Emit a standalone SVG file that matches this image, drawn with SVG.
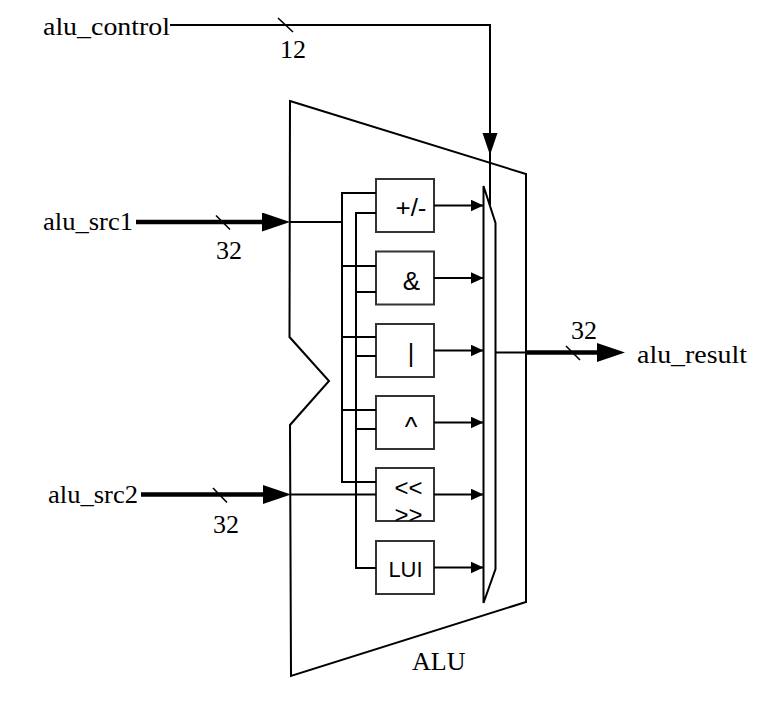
<svg xmlns="http://www.w3.org/2000/svg" width="781" height="709" viewBox="0 0 781 709">
<style>
.w{fill:none;stroke:#000;stroke-width:2}
.thick{fill:none;stroke:#000;stroke-width:4.5}
.tick{fill:none;stroke:#000;stroke-width:1.6}
.box{fill:#fff;stroke:#333;stroke-width:2}
.lbl{font-family:"Liberation Serif","Times New Roman",serif;font-size:26px;fill:#000}
.op{font-family:"Liberation Sans",Arial,sans-serif;font-size:22px;fill:#000;text-anchor:middle}
</style>
<defs>
<marker id="ah" markerUnits="userSpaceOnUse" markerWidth="14" markerHeight="13" refX="13" refY="6" orient="auto"><path d="M0,0 L13,6 L0,12 z" fill="#000"/></marker>
<marker id="big" markerUnits="userSpaceOnUse" markerWidth="29" markerHeight="20" refX="0" refY="9.5" orient="auto"><path d="M0,0 L28,9.5 L0,19 z" fill="#000"/></marker>
<marker id="ctl" markerUnits="userSpaceOnUse" markerWidth="23" markerHeight="16" refX="22" refY="7.5" orient="auto"><path d="M0,0 L22,7.5 L0,15 z" fill="#000"/></marker>
</defs>
<rect width="781" height="709" fill="#fff"/>

<g id="alu">
<polygon class="w" points="290,101 526,174 526,602 291,676 290,425 329,381 289.5,337"/>
<text class="lbl" x="412" y="670">ALU</text>
</g>

<g id="mux">
<polygon class="w" points="483.5,186 495.5,223 495.5,569 483.5,603"/>
</g>

<g id="op_addsub"><rect class="box" x="376" y="179" width="58" height="53"/><text class="op" x="411" y="216" style="font-size:23px" textLength="31" lengthAdjust="spacingAndGlyphs">+/-</text></g>
<g id="op_and"><rect class="box" x="376" y="251.5" width="58" height="53"/><text class="op" x="411.5" y="290" style="font-size:26px">&amp;</text></g>
<g id="op_or"><rect class="box" x="376" y="324" width="58" height="53"/><text class="op" x="411" y="362" style="font-size:25px">|</text></g>
<g id="op_xor"><rect class="box" x="376" y="396" width="58" height="53"/><text class="op" x="411" y="436" style="font-size:27px">^</text></g>
<g id="op_shift"><rect class="box" x="376" y="468" width="58" height="53"/><text class="op" x="408.5" y="496" style="font-size:24px">&lt;&lt;</text><text class="op" x="408.5" y="523" style="font-size:24px">&gt;&gt;</text></g>
<g id="op_lui"><rect class="box" x="376" y="541" width="58" height="53"/><text class="op" x="405.5" y="577">LUI</text></g>

<g id="alu_control"><text class="lbl" x="43" y="35" textLength="127" lengthAdjust="spacingAndGlyphs">alu_control</text></g>
<g id="alu_src1"><text class="lbl" x="43" y="230" textLength="90" lengthAdjust="spacingAndGlyphs">alu_src1</text></g>
<g id="alu_src2"><text class="lbl" x="48" y="503" textLength="90" lengthAdjust="spacingAndGlyphs">alu_src2</text></g>
<g id="alu_result"><text class="lbl" x="637" y="362.5" textLength="110" lengthAdjust="spacingAndGlyphs">alu_result</text></g>

<g id="connectors">
<path class="w" d="M170,25 H490 V155" marker-end="url(#ctl)"/>
<line class="w" x1="490" y1="154" x2="490" y2="205"/>
<line class="tick" x1="278" y1="18" x2="293" y2="32"/>
<text class="lbl" x="280" y="58">12</text>
<line class="thick" x1="136" y1="222" x2="262" y2="222" marker-end="url(#big)"/>
<line class="tick" x1="216" y1="215.5" x2="230" y2="229.5"/>
<text class="lbl" x="216" y="259">32</text>
<path class="w" d="M290,222 H342"/>
<path class="w" d="M376,193 H342 V482 H376"/>
<path class="w" d="M342,266 H376 M342,337 H376 M342,410 H376"/>
<line class="thick" x1="141" y1="494.5" x2="263" y2="494.5" marker-end="url(#big)"/>
<line class="tick" x1="213" y1="488" x2="227" y2="502.5"/>
<text class="lbl" x="213" y="533">32</text>
<path class="w" d="M290,494.5 H376"/>
<path class="w" d="M376,213 H356 V568 H376"/>
<path class="w" d="M356,292 H376 M356,356 H376 M356,429 H376"/>
<line class="w" x1="434" y1="205.5" x2="483.5" y2="205.5" marker-end="url(#ah)"/>
<line class="w" x1="434" y1="278" x2="483.5" y2="278" marker-end="url(#ah)"/>
<line class="w" x1="434" y1="350.5" x2="483.5" y2="350.5" marker-end="url(#ah)"/>
<line class="w" x1="434" y1="422.5" x2="483.5" y2="422.5" marker-end="url(#ah)"/>
<line class="w" x1="434" y1="494.5" x2="483.5" y2="494.5" marker-end="url(#ah)"/>
<line class="w" x1="434" y1="567.5" x2="483.5" y2="567.5" marker-end="url(#ah)"/>
<line class="w" x1="495.5" y1="352.5" x2="526" y2="352.5"/>
<line class="thick" x1="525" y1="352.5" x2="597" y2="352.5" marker-end="url(#big)"/>
<line class="tick" x1="566" y1="346" x2="580" y2="360"/>
<text class="lbl" x="571" y="339">32</text>
</g>
</svg>
